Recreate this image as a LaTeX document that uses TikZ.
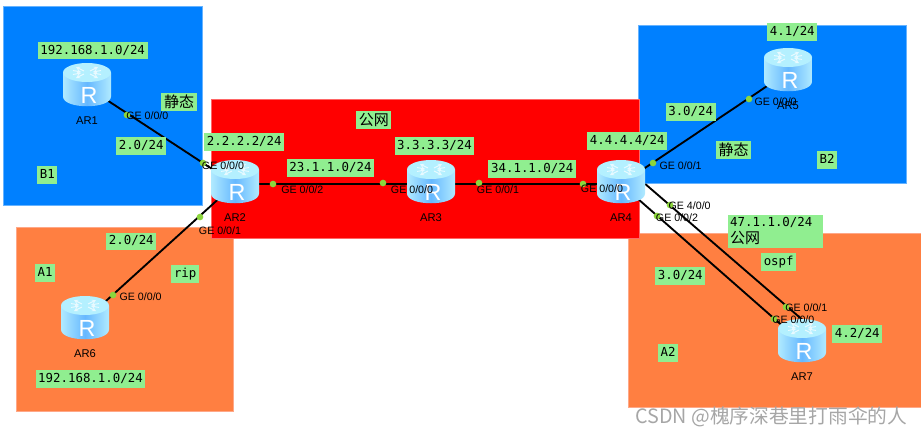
\documentclass[tikz,border=0pt]{standalone}
\usepackage{fontspec}
\setmainfont{Liberation Sans}
\newfontfamily\netmono{DejaVu Sans Mono}
\newfontfamily\cjkfont{Noto Sans CJK SC}
\usetikzlibrary{arrows.meta}
\definecolor{zoneblue}{HTML}{0080FF}
\definecolor{zoneblueedge}{HTML}{66B3FF}
\definecolor{zonered}{HTML}{FF0000}
\definecolor{zonerededge}{HTML}{FF6666}
\definecolor{zoneorange}{HTML}{FF7F41}
\definecolor{zoneorangeedge}{HTML}{FFA888}
\definecolor{boxgreen}{HTML}{90EE90}
\definecolor{portgreen}{HTML}{8CD63C}
\definecolor{routertop}{HTML}{B4F0FF}
\definecolor{routerside}{HTML}{B0EAFF}
\definecolor{routermid}{HTML}{66B8FF}
\tikzset{
	zonefill/.style={line width=0.75pt},
	link/.style={line width=1.4pt, black},
	netbox/.style={fill=boxgreen, inner xsep=2pt, inner ysep=0pt, font=\netmono\fontsize{9.3pt}{11pt}\selectfont},
	netlabel/.style={netbox, minimum height=13.1pt, text height=7pt, text depth=1.6pt},
	cjklabel/.style={fill=boxgreen, inner xsep=2pt, inner ysep=0pt, minimum height=13.1pt, font=\cjkfont\fontsize{11.25pt}{13pt}\selectfont},
	routerbox/.style={inner sep=0pt, minimum width=36pt, minimum height=28.5pt},
	routertext/.style={font=\fontsize{8.4pt}{10pt}\selectfont},
	porttext/.style={anchor=west, inner sep=0pt, font=\fontsize{8pt}{10pt}\selectfont},
	portdot/.style={circle, fill=portgreen, inner sep=0pt, minimum size=5pt}
}
\begin{document}
\begin{tikzpicture}[x=0.75pt, y=-0.75pt]
	\useasboundingbox (0,0) rectangle (921,437);

	% Zones
	\filldraw[zonefill, fill=zoneblue, draw=zoneblueedge] (3.5,6.5) rectangle (202.5,205.5);
	\filldraw[zonefill, fill=zoneblue, draw=zoneblueedge] (638,25) rectangle (906.5,183);
	\filldraw[zonefill, fill=zoneorange, draw=zoneorangeedge] (16.5,227.5) rectangle (233.5,411);
	\filldraw[zonefill, fill=zoneorange, draw=zoneorangeedge] (628.5,233.5) rectangle (921,407);
	\filldraw[zonefill, fill=zonered, draw=zonerededge] (211,99.5) rectangle (639,238);

	% Routers (icons follow after the links)
	\foreach \name/\x/\y in {AR1/87/87, AR2/235/184, AR3/431/184, AR4/621/184, AR5/788/72, AR6/85/320, AR7/802/343} {
		\node[routerbox] (\name) at (\x,\y) {};
	}

	% Links
	\draw[link] (AR1.center) -- (AR2.center);
	\draw[link] (AR2.center) -- (AR6.center);
	\draw[link] (AR2.center) -- (AR3.center);
	\draw[link] (AR3.center) -- (AR4.center);
	\draw[link] (AR4.center) -- (AR5.center);
	\draw[link] (AR4.center) -- (AR7.center);
	\draw[link] (AR4.east) -- ([xshift=3.75pt]AR7.north);

	% Router icons
	\foreach \name in {AR1,AR2,AR3,AR4,AR5,AR6,AR7} {
		\begin{scope}[shift={(\name.center)}]
			\shade[left color=routerside, right color=routerside, middle color=routermid]
				(-24,-14.5) -- (-24,9.5) .. controls (-24,22.5) and (24,22.5) .. (24,9.5) -- (24,-14.5) -- cycle;
			\fill[routertop] (0,-14.5) circle[x radius=24, y radius=9.5];
			\foreach \dx/\dy in {-1/-1, 1/-1, -1/1, 1/1} {
				\draw[white!70!routertop, line width=0.7pt, -{Stealth[length=3pt, width=3pt]}] (\dx*3,-14.5+\dy*1.5) -- (\dx*11,-14.5+\dy*5.5);
				\draw[white!70!routertop, line width=0.7pt, -{Stealth[length=3pt, width=3pt]}] (\dx*14,-14.5+\dy*2) -- (\dx*6,-14.5+\dy*0.5);
			}
			\node[text=white, inner sep=0pt, font=\fontsize{17.5pt}{18pt}\selectfont] (\name-R) at (2,8.7) {R};
		\end{scope}
		\node[routertext] (\name-text) at ([yshift=-25pt]\name.center) {\name};
	}

	% Ports
	\foreach \name/\x/\y/\tx/\ty/\t in {
		pa/127/115/126/116/{GE 0/0/0},
		pb/203/163/201.7/165.7/{GE 0/0/0},
		pc/273/184/281/189.3/{GE 0/0/2},
		pd/200/217/198.7/231/{GE 0/0/1},
		pe/113/295/119.3/297/{GE 0/0/0},
		pf/383/183/390.7/189.3/{GE 0/0/0},
		pg/479/183/476.7/189.3/{GE 0/0/1},
		ph/583/184/580.7/189/{GE 0/0/0},
		pi/653/163/659.3/165.7/{GE 0/0/1},
		pj/749/99/754.3/101.7/{GE 0/0/0},
		pk/670/205/668.3/205.7/{GE 4/0/0},
		pl/657/216/655.7/217.7/{GE 0/0/2},
		pm/786/307/785/307.7/{GE 0/0/1},
		pn/774/319/772/320/{GE 0/0/0}} {
		\node[portdot] (\name) at (\x,\y) {};
		\node[porttext] (\name-text) at (\tx,\ty) {\t};
	}

	% Subnet labels
	\foreach \name/\x/\y/\t in {
		netA/92.7/50.7/{192.168.1.0/24},
		netB/141.2/146.2/{2.0/24},
		netC/244.3/142/{2.2.2.2/24},
		netD/47.3/175/{B1},
		netE/131.3/241.3/{2.0/24},
		netF/45.2/273/{A1},
		netG/185.2/273.8/{rip},
		netH/90.5/379.2/{192.168.1.0/24},
		netI/792.3/32.2/{4.1/24},
		netJ/690.7/112.2/{3.0/24},
		netK/627.3/141.2/{4.4.4.4/24},
		netL/827.2/160/{B2},
		netM/778.7/262/{ospf},
		netN/680.3/276.2/{3.0/24},
		netO/668.2/353/{A2},
		netP/857.3/334.2/{4.2/24},
		netQ/434.5/146.2/{3.3.3.3/24},
		netR/330.5/168.2/{23.1.1.0/24},
		netS/532.2/169/{34.1.1.0/24}} {
		\node[netlabel] (\name) at (\x,\y) {\t};
	}
	\node[netbox, anchor=north west, text width=67.5pt, minimum height=24.8pt, align=left] (netT) at (727.3,214.3)
		{47.1.1.0/24\\[1.2pt]{\cjkfont\fontsize{11.25pt}{13pt}\selectfont 公网}};

	% Area labels
	\node[cjklabel] (areaA) at (179,102.2) {静态};
	\node[cjklabel] (areaB) at (733.7,149.8) {静态};
	\node[cjklabel] (areaC) at (373.8,120) {公网};

	\node[anchor=west, inner sep=0pt, text=black!35, font=\cjkfont\fontsize{14.8pt}{16pt}\selectfont] (mark) at (635,417) {CSDN @槐序深巷里打雨伞的人};
\end{tikzpicture}
\end{document}
